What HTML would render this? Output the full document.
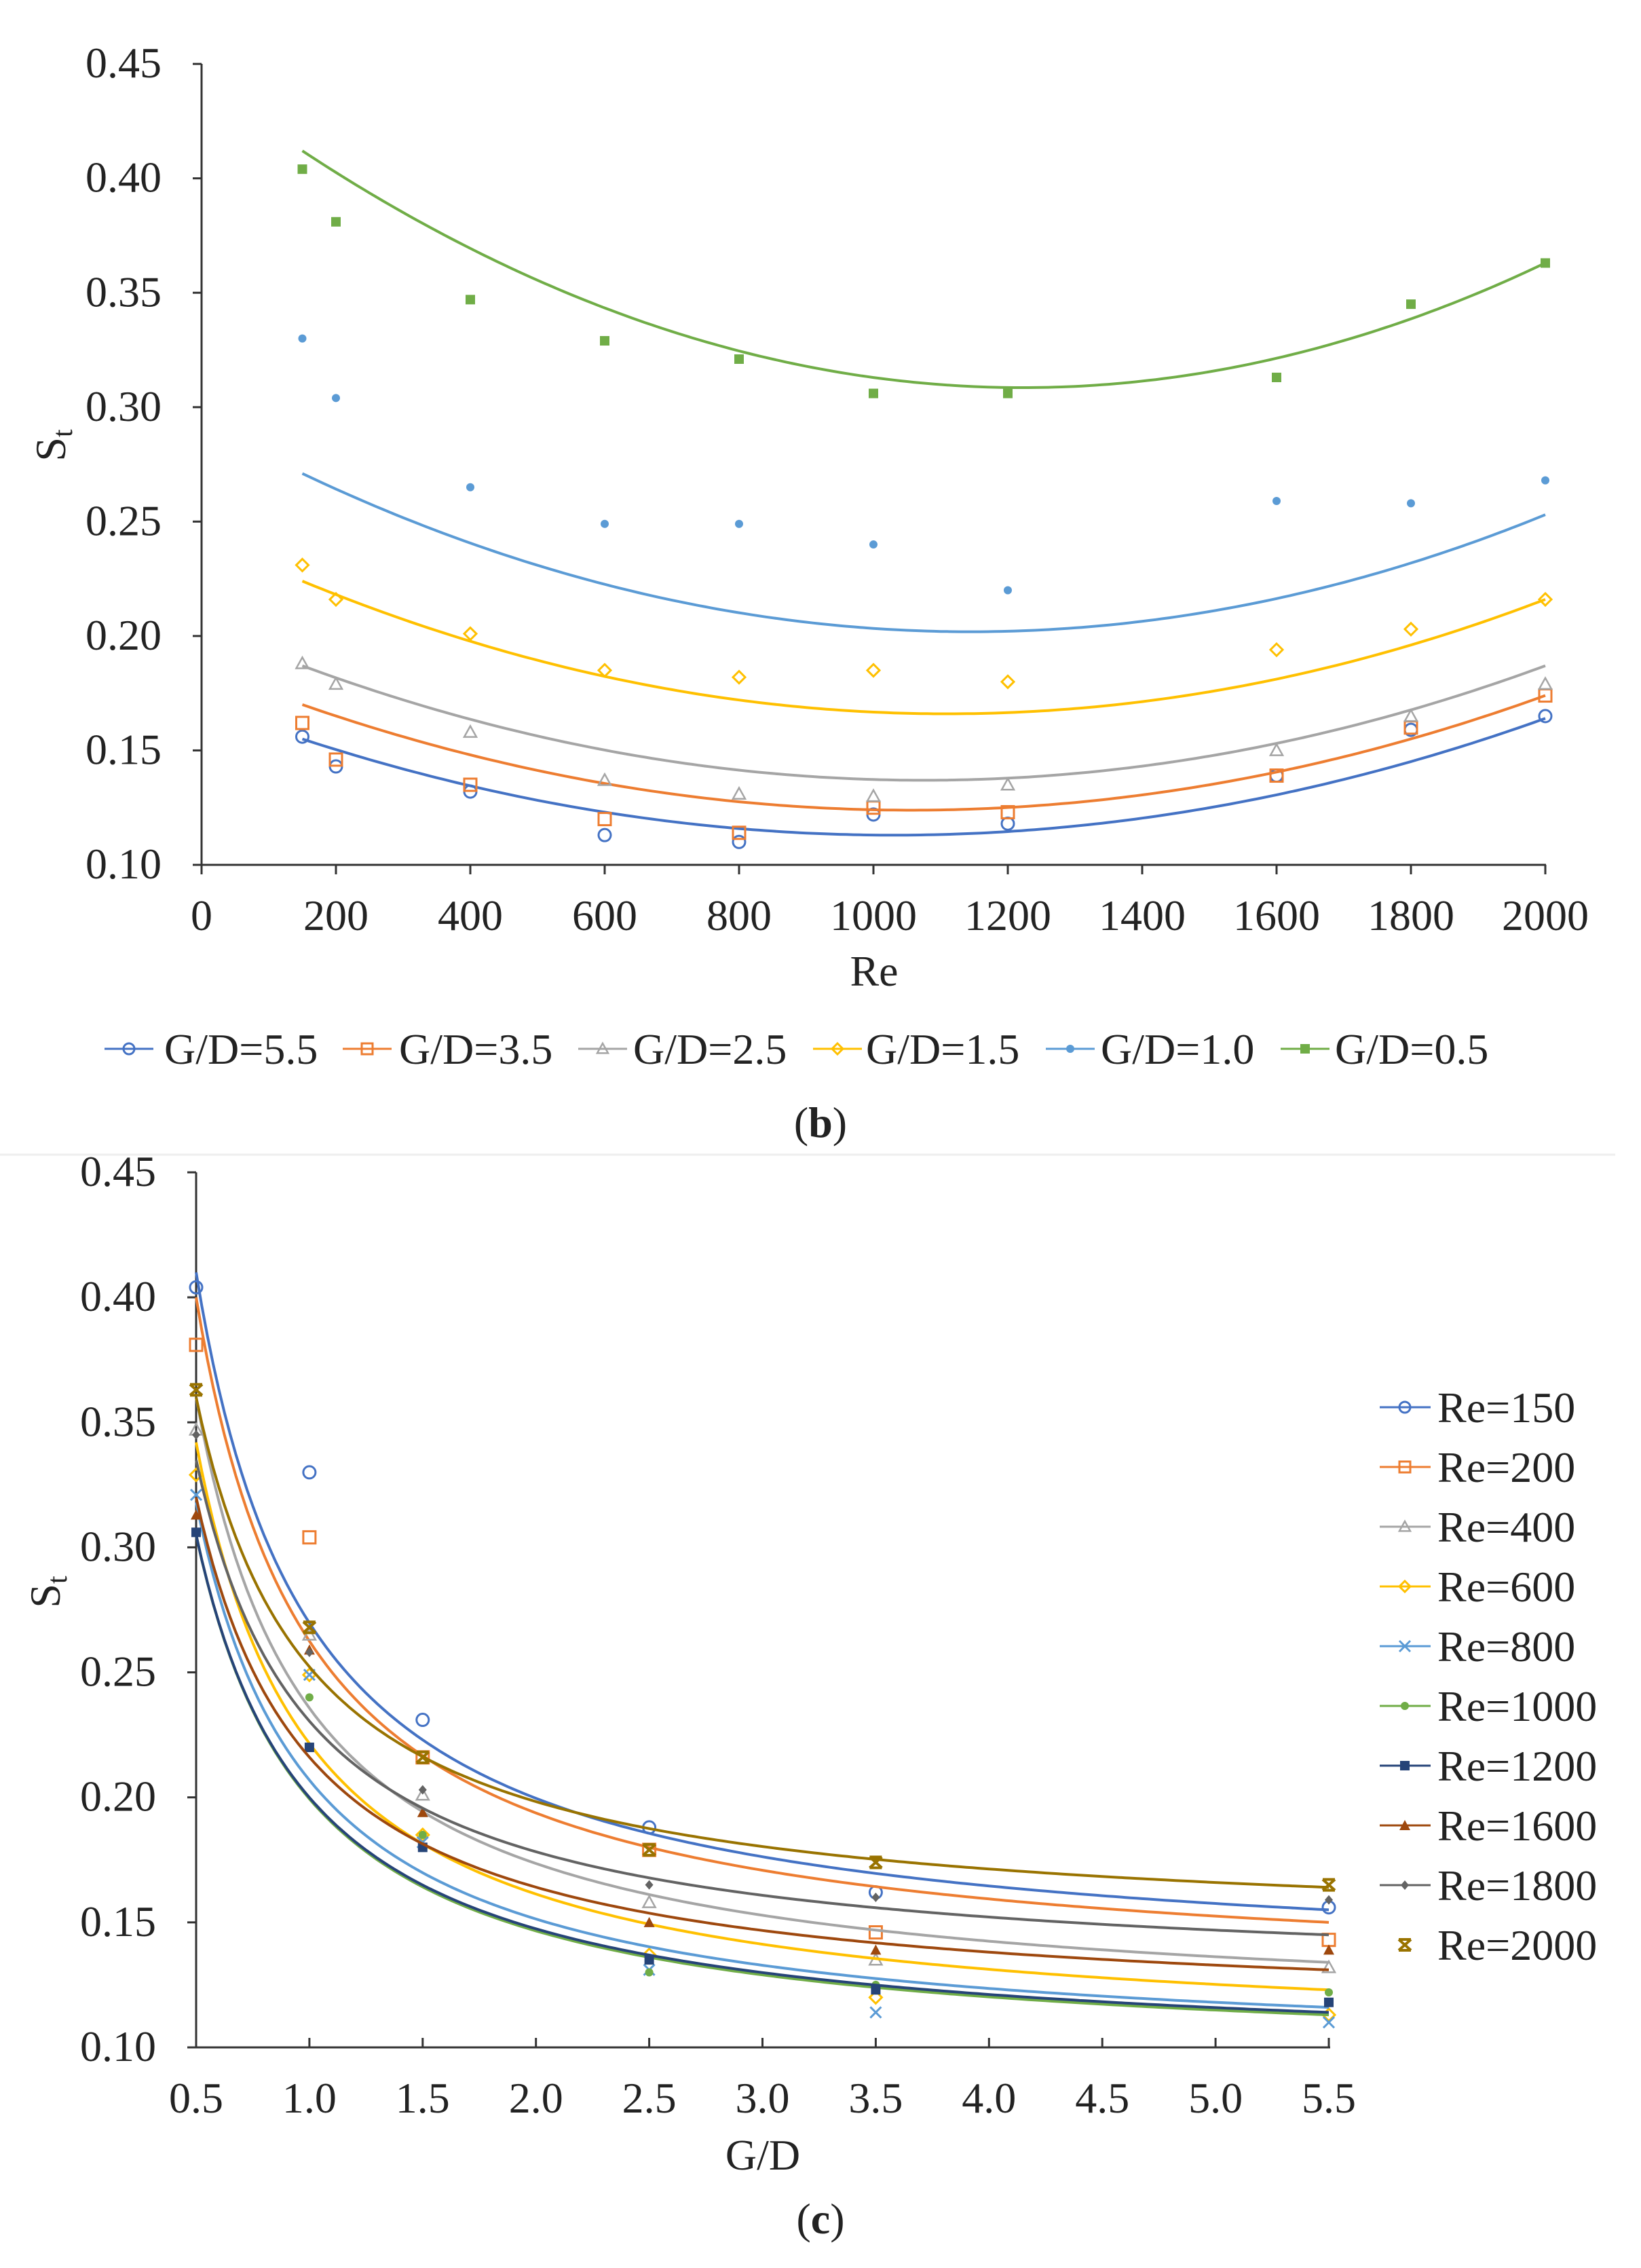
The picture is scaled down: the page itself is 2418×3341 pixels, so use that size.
<!DOCTYPE html>
<html><head><meta charset="utf-8"><style>
html,body{margin:0;padding:0;background:#fff;}
svg{display:block;font-family:"Liberation Serif",serif;}
</style></head><body>
<svg id="s" width="2418" height="3341" xmlns="http://www.w3.org/2000/svg"></svg>
<script>
const S=document.getElementById('s');let h='';
const Re=[150,200,400,600,800,1000,1200,1600,1800,2000];
const GD=[5.5,3.5,2.5,1.5,1.0,0.5];
const D={
5.5:[0.156,0.143,0.132,0.113,0.110,0.122,0.118,0.139,0.159,0.165],
3.5:[0.162,0.146,0.135,0.120,0.114,0.125,0.123,0.139,0.160,0.174],
2.5:[0.188,0.179,0.158,0.137,0.131,0.130,0.135,0.150,0.165,0.179],
1.5:[0.231,0.216,0.201,0.185,0.182,0.185,0.180,0.194,0.203,0.216],
1.0:[0.330,0.304,0.265,0.249,0.249,0.240,0.220,0.259,0.258,0.268],
0.5:[0.404,0.381,0.347,0.329,0.321,0.306,0.306,0.313,0.345,0.363]};
const CB={5.5:[[150,.155],[1050,.113],[2000,.164]],3.5:[[150,.170],[1100,.124],[2000,.174]],2.5:[[150,.187],[1100,.137],[2000,.187]],
1.5:[[150,.224],[1100,.166],[2000,.216]],1.0:[[150,.271],[1100,.202],[2000,.253]],0.5:[[150,.412],[1150,.309],[2000,.363]]};
const colB={5.5:'#4472C4',3.5:'#ED7D31',2.5:'#A5A5A5',1.5:'#FFC000',1.0:'#5B9BD5',0.5:'#70AD47'};
const mkB={5.5:'oc',3.5:'os',2.5:'ot',1.5:'od',1.0:'fc',0.5:'fs'};
function marker(t,x,y,c,r){r=r||9;
 switch(t){
 case 'oc':return `<circle cx="${x}" cy="${y}" r="${r}" fill="none" stroke="${c}" stroke-width="3"/>`;
 case 'os':return `<rect x="${x-r}" y="${y-r}" width="${2*r}" height="${2*r}" fill="none" stroke="${c}" stroke-width="3"/>`;
 case 'ot':return `<polygon points="${x},${y-r} ${x+r},${y+r*0.8} ${x-r},${y+r*0.8}" fill="none" stroke="${c}" stroke-width="2.5"/>`;
 case 'od':return `<polygon points="${x},${y-r} ${x+r},${y} ${x},${y+r} ${x-r},${y}" fill="none" stroke="${c}" stroke-width="3"/>`;
 case 'fc':return `<circle cx="${x}" cy="${y}" r="6" fill="${c}"/>`;
 case 'fs':return `<rect x="${x-7}" y="${y-7}" width="14" height="14" fill="${c}"/>`;
 case 'x':return `<path d="M${x-8} ${y-8}L${x+8} ${y+8}M${x-8} ${y+8}L${x+8} ${y-8}" stroke="${c}" stroke-width="3"/>`;
 case 'ft':return `<polygon points="${x},${y-8} ${x+8},${y+7} ${x-8},${y+7}" fill="${c}"/>`;
 case 'fd':return `<polygon points="${x},${y-7} ${x+6},${y} ${x},${y+7} ${x-6},${y}" fill="${c}"/>`;
 case 'ast':return `<path d="M${x-9} ${y-8}L${x+9} ${y+8}M${x-9} ${y+8}L${x+9} ${y-8}M${x-9} ${y-8}L${x+9} ${y-8}M${x-9} ${y+8}L${x+9} ${y+8}" stroke="${c}" stroke-width="4"/>`;
 }}
function txt(x,y,s,a,fs){return `<text x="${x}" y="${y}" font-size="${fs||60}" text-anchor="${a||'middle'}" fill="#222">${s}</text>`;}
// ---- Chart b
const bx=v=>297+v*0.99, by=v=>1274-(v-0.10)*3371;
h+=`<line x1="297" y1="94" x2="297" y2="1274" stroke="#333" stroke-width="3"/><line x1="297" y1="1274" x2="2278" y2="1274" stroke="#333" stroke-width="3"/>`;
for(let i=0;i<=7;i++){const v=0.10+i*0.05,y=by(v);h+=`<line x1="284" y1="${y}" x2="297" y2="${y}" stroke="#333" stroke-width="3"/>`+txt(238,y+20,v.toFixed(2),'end',64);}
for(let v=0;v<=2000;v+=200){const x=bx(v);h+=`<line x1="${x}" y1="1274" x2="${x}" y2="1288" stroke="#333" stroke-width="3"/>`+txt(x,1370,v,'middle',64);}
h+=txt(1288,1452,'Re','middle',64);
h+=`<text transform="translate(96,656) rotate(-90)" font-size="64" text-anchor="middle" fill="#222">S<tspan font-size="42" dy="10">t</tspan></text>`;
function quad(p){const [[x0,y0],[x1,y1],[x2,y2]]=p;return x=>y0*(x-x1)*(x-x2)/((x0-x1)*(x0-x2))+y1*(x-x0)*(x-x2)/((x1-x0)*(x1-x2))+y2*(x-x0)*(x-x1)/((x2-x0)*(x2-x1));}
GD.forEach(g=>{const f=quad(CB[g]);let d='';for(let x=150;x<=2000;x+=10)d+=(x==150?'M':'L')+bx(x).toFixed(1)+' '+by(f(x)).toFixed(1);
 h+=`<path d="${d}" fill="none" stroke="${colB[g]}" stroke-width="4"/>`;
 D[g].forEach((v,i)=>h+=marker(mkB[g],bx(Re[i]),by(v),colB[g]));});
const lgx=[[154,242],[505,588],[852,933],[1198,1276],[1541,1622],[1887,1967]];
GD.forEach((g,i)=>{const [lx,tx]=lgx[i],y=1545;h+=`<line x1="${lx}" y1="${y}" x2="${lx+72}" y2="${y}" stroke="${colB[g]}" stroke-width="3"/>`+marker(mkB[g],lx+36,y,colB[g],8)+txt(tx,y+22,'G/D='+g.toFixed(1),'start',64);});
h+=`<text x="1209" y="1675" font-size="64" text-anchor="middle" fill="#222">(<tspan font-weight="bold">b</tspan>)</text>`;
h+=`<line x1="0" y1="1701" x2="2380" y2="1701" stroke="#eee" stroke-width="3"/>`;
// ---- Chart c
const cx=v=>289+(v-0.5)*333.8, cy=v=>3016-(v-0.10)*3683;
h+=`<line x1="289" y1="1727" x2="289" y2="3016" stroke="#333" stroke-width="3"/><line x1="289" y1="3016" x2="1960" y2="3016" stroke="#333" stroke-width="3"/>`;
for(let i=0;i<=7;i++){const v=0.10+i*0.05,y=cy(v);h+=`<line x1="276" y1="${y}" x2="289" y2="${y}" stroke="#333" stroke-width="3"/>`+txt(230,y+20,v.toFixed(2),'end',64);}
for(let i=0;i<=10;i++){const v=0.5+i*0.5,x=cx(v);h+=`<line x1="${x}" y1="3016" x2="${x}" y2="3002" stroke="#333" stroke-width="3"/>`+txt(x,3112,v.toFixed(1),'middle',64);}
h+=txt(1124,3196,'G/D','middle',64);
h+=`<text transform="translate(88,2345) rotate(-90)" font-size="64" text-anchor="middle" fill="#222">S<tspan font-size="42" dy="10">t</tspan></text>`;
const colC=['#4472C4','#ED7D31','#A5A5A5','#FFC000','#5B9BD5','#70AD47','#264478','#9E480E','#636363','#997300'];
const mkC=['oc','os','ot','od','x','fc','fs','ft','fd','ast'];
const ends=[[.41,.155],[.40,.150],[.36,.134],[.342,.123],[.318,.116],[.305,.113],[.305,.114],[.32,.131],[.335,.145],[.36,.164]];
const gs=[0.5,1.0,1.5,2.5,3.5,5.5];
Re.forEach((r,j)=>{const pts=gs.map(g=>[g,D[g][j]]);
 const [y0,y1]=ends[j];const b=(y0-y1)/(2-1/5.5),a=y0-2*b;let d='';
 for(let g=0.5;g<=5.5001;g+=0.025)d+=(g==0.5?'M':'L')+cx(g).toFixed(1)+' '+cy(a+b/g).toFixed(1);
 h+=`<path d="${d}" fill="none" stroke="${colC[j]}" stroke-width="4"/>`;
 pts.forEach(([g,v])=>h+=marker(mkC[j],cx(g),cy(v),colC[j]));
 const y=2073+j*88;
 if(j<9)h+=`<line x1="2033" y1="${y}" x2="2108" y2="${y}" stroke="${colC[j]}" stroke-width="3"/>`;
 h+=marker(mkC[j],2070,y,colC[j],8)+txt(2118,y+22,'Re='+r,'start',64);});
h+=`<text x="1209" y="3290" font-size="64" text-anchor="middle" fill="#222">(<tspan font-weight="bold">c</tspan>)</text>`;
S.innerHTML=h;
</script>
</body></html>
